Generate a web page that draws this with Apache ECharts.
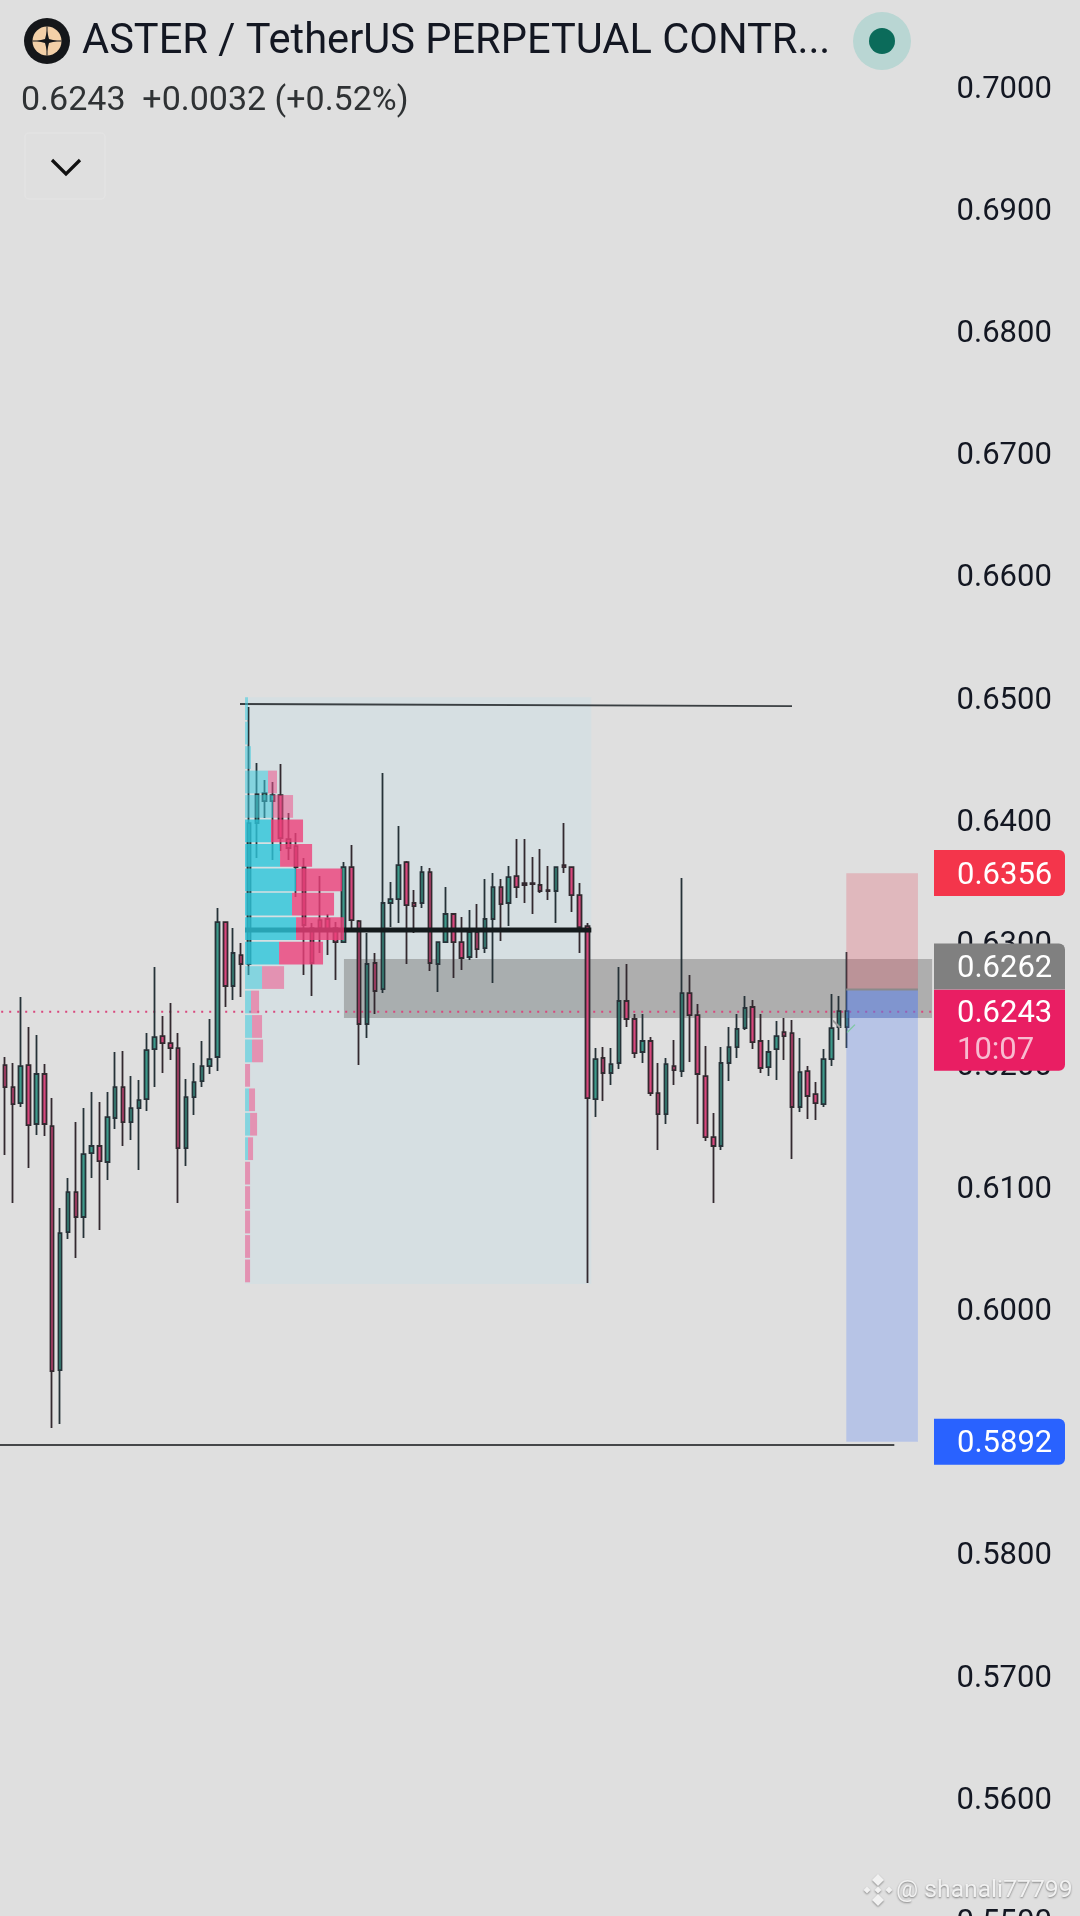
<!DOCTYPE html>
<html><head><meta charset="utf-8">
<style>html,body{margin:0;padding:0;background:#dfdfdf}#c{width:1080px;height:1916px}</style>
<script src="https://cdn.jsdelivr.net/npm/echarts@6/dist/echarts.min.js"></script>
</head><body><div id="c"></div>
<script>
const opens=[.61821,.62001,.61821,.61690,.62001,.61519,.61928,.61502,.59506,.60635,.60962,.60758,.61281,.61339,.61208,.61568,.61821,.61535,.61649,.61723,.62132,.62238,.62181,.62140,.61322,.61739,.61870,.61993,.62067,.63171,.62648,.62901,.62828,.63981,.64161,.64161,.64210,.63850,.63793,.63621,.63122,.63187,.63196,.63122,.63007,.63621,.63179,.62337,.62836,.62623,.63327,.63359,.63662,.63327,.63327,.63580,.62828,.63007,.63237,.63007,.62885,.63089,.62958,.63196,.63457,.63327,.63547,.63490,.63490,.63474,.63433,.63425,.63637,.63621,.63392,.63138,.61723,.62059,.61936,.62018,.62525,.62378,.62108,.62198,.61772,.61600,.61993,.61952,.62590,.62410,.61911,.61412,.61339,.62018,.62148,.62304,.62476,.62198,.61985,.62132,.62271,.62263,.61658,.61952,.61764,.61682,.62050,.62312,.62312];
const closes=[.62018,.61821,.61682,.61993,.61510,.61928,.61519,.59498,.60627,.60962,.60758,.61273,.61339,.61216,.61576,.61821,.61535,.61649,.61715,.62124,.62230,.62181,.62140,.61322,.61739,.61862,.61993,.62050,.63171,.62648,.62918,.62828,.63981,.64218,.64226,.64210,.63858,.63777,.63621,.63147,.62836,.63122,.63114,.63007,.63621,.63187,.62337,.62828,.62607,.63327,.63359,.63637,.63310,.63302,.63580,.62836,.63007,.63237,.63007,.62877,.63089,.62950,.63196,.63457,.63318,.63539,.63457,.63474,.63482,.63425,.63425,.63621,.63621,.63392,.63130,.61731,.62050,.61936,.62009,.62525,.62378,.62099,.62198,.61772,.61600,.62009,.61960,.62590,.62410,.61928,.61412,.61339,.62018,.62148,.62296,.62468,.62189,.61977,.62108,.62238,.62238,.61658,.61944,.61748,.61690,.62050,.62304,.62443,.62443];
const lows=[.61715,.61265,.60872,.61658,.61159,.61429,.61420,.59032,.59064,.60578,.60422,.60586,.61077,.60651,.61060,.61478,.61339,.61388,.61142,.61625,.61821,.61936,.62042,.60872,.61175,.61592,.61821,.61928,.61952,.62476,.62533,.62558,.62738,.63695,.64022,.63678,.63752,.63678,.63376,.62738,.62566,.62918,.62901,.62697,.63007,.63106,.62001,.62222,.62418,.62590,.63130,.63163,.62828,.63081,.63286,.62770,.62598,.62999,.62713,.62778,.62860,.62877,.62918,.62672,.63016,.63138,.63367,.63327,.63237,.63408,.63351,.63163,.63572,.63253,.62918,.60218,.61576,.61707,.61838,.61969,.62312,.62059,.62018,.61748,.61306,.61519,.61838,.61903,.62026,.61519,.61379,.60872,.61306,.61870,.62059,.62288,.62132,.61936,.61911,.61879,.62042,.61232,.61617,.61559,.61551,.61658,.61993,.62206,.62140];
const highs=[.62108,.62067,.62018,.62558,.62312,.62247,.62009,.61731,.60831,.61077,.61535,.61649,.61780,.61699,.61780,.62108,.62116,.61911,.61879,.62263,.62803,.62402,.62508,.62263,.61887,.62018,.62198,.62378,.63286,.63171,.63122,.62999,.64930,.64472,.64333,.64316,.64464,.64063,.63899,.63695,.63163,.63547,.63237,.63171,.63662,.63801,.63187,.63081,.62918,.64390,.63498,.63957,.63670,.63433,.63629,.63613,.63007,.63457,.63245,.63212,.63269,.63318,.63523,.63572,.63523,.63629,.63850,.63850,.63703,.63768,.63629,.63621,.63981,.63621,.63490,.63163,.62140,.62148,.62140,.62803,.62828,.62418,.62418,.62230,.62018,.62059,.62206,.63531,.62738,.62500,.62157,.61609,.62148,.62312,.62418,.62566,.62533,.62418,.62206,.62361,.62386,.62369,.62222,.61993,.61862,.62132,.62582,.62566,.62926];

const axisMin=.55, axisMax=.71, axisStep=.01;
const rangeBox=[[32,76,.6501,.6021]];
const supplyZone=[[44.57,119.3,.62868,.62386]];
const stopBox=[[108.4,117.5,.6357,.6262]];
const targetBox=[[108.4,117.5,.6262,.5892]];
const overlapBox=[[108.4,117.5,.6262,.62386]];

const pocLine=[[32,.63106],[76,.63106]];
const topLine=[[31.36,.64955],[101.5,.64938]];
const bottomLine=[[0,.58892],[114.5,.58892]];
const lastPriceLine=[[0,.62438],[119.3,.62438]];
const entryLine=[[108.4,.6262],[117.5,.6262]];
const toolTickA=[[106.7,.62365],[107.6,.62308]];
const toolTickB=[[108.5,.62267],[109.5,.62332]];

const profileTops=[.6501,.6481,.6461,.6441,.6421,.6401,.6381,.6361,.6341,.6321,.6301,.6281,.6261,.6241,.6221,.6201,.6181,.6161,.6141,.6121,.6101,.6081,.6061,.6041];
const profileBuy=[.38,.38,.76,2.92,3.56,3.30,4.45,6.48,5.97,6.48,4.32,2.16,.76,.89,.89,0,.51,.64,.38,0,0,0,0,0];
const profileSell=[0,0,0,1.14,2.54,4.07,4.07,5.84,5.34,6.10,5.59,2.80,1.02,1.27,1.40,.64,.76,.89,.64,.64,.64,.64,.64,.64];
const profileValueArea=[0,0,0,0,0,1,1,1,1,1,1,0,0,0,0,0,0,0,0,0,0,0,0,0];
const profileStart=32;

const priceTags=[
 {value:.6356,text:'0.6356',color:'#f4354b',up:1.5},
 {value:.6262,text:'0.6262',color:'#808080',up:23},
 {value:.5892,text:'0.5892',color:'#2962ff',up:0}
];
const lastPrice=.6243, lastPriceText='0.6243', countdown='10:07';

const FONT='Roboto';
const BARW=7.87, N=120, GL=-6.8;
const GT=-34.94, GH=1955.8;

function rectSeries(name,data,fill,z){
  return {type:'custom',name,xAxisIndex:1,yAxisIndex:0,z,silent:true,clip:false,
    encode:{x:[0,1],y:[2,3]},data,
    renderItem:(p,api)=>{
      const a=api.coord([api.value(0),api.value(2)]),b=api.coord([api.value(1),api.value(3)]);
      return {type:'rect',shape:{x:a[0],y:a[1],width:b[0]-a[0],height:b[1]-a[1]},style:{fill}};
    }};
}
function lineSeries(name,data,color,width,z,extra){
  return {type:'line',name,xAxisIndex:1,yAxisIndex:0,z,silent:true,symbol:'none',clip:false,data,
    lineStyle:Object.assign({color,width},extra||{})};
}
const profileData=profileTops.map((t,i)=>[t,profileBuy[i],profileSell[i],profileValueArea[i]]);

const chart=echarts.init(document.getElementById('c'),null,{renderer:'canvas',width:1080,height:1916});

const cats=Array.from({length:N},(_,i)=>String(i));
const candles=opens.map((o,i)=>[o,closes[i],lows[i],highs[i]]);

const WM='#f1f1f1';
const d=(pts,fill)=>({type:'polygon',z:50,shape:{points:pts},style:{fill,shadowColor:'rgba(0,0,0,.4)',shadowBlur:2,shadowOffsetY:1}});
const diamond=(cx,cy,r,fill)=>d([[cx,cy-r],[cx+r,cy],[cx,cy+r],[cx-r,cy]],fill);

chart.setOption({
  animation:false,
  backgroundColor:'#dfdfdf',
  textStyle:{fontFamily:FONT},
  grid:{left:GL,top:GT,width:N*BARW,height:GH,containLabel:false,outerBoundsMode:'none'},
  xAxis:[
    {type:'category',data:cats,show:false,boundaryGap:true},
    {type:'value',min:0,max:N,show:false}
  ],
  yAxis:{type:'value',position:'right',min:axisMin,max:axisMax,interval:axisStep,scale:true,
    axisLine:{show:false},axisTick:{show:false},splitLine:{show:false},
    axisLabel:{margin:19,color:'#131722',fontFamily:FONT,fontSize:31,verticalAlign:'top',lineHeight:5,formatter:v=>v.toFixed(4),hideOverlap:false}},
  series:[
    rectSeries('range',rangeBox,'#d6dfe2',1),
    rectSeries('zone',supplyZone,'rgba(110,110,110,.43)',2),
    {type:'candlestick',name:'ASTER',z:3,data:candles,barWidth:4,silent:true,
      itemStyle:{color:'#3d9a8b',color0:'#d9477d',borderColor:'#263238',borderColor0:'#33292f',borderWidth:1.8}},
    lineSeries('last',lastPriceLine,'#d9477d',2,3,{type:[2,6]}),
    lineSeries('poc',pocLine,'#141a1c',5,4),
    lineSeries('top',topLine,'#3a3f42',1.8,4),
    lineSeries('bottom',bottomLine,'#454749',2,4),
    {type:'custom',name:'profile',xAxisIndex:1,yAxisIndex:0,z:5,silent:true,clip:false,encode:{x:1,y:0},data:profileData,
      renderItem:(p,api)=>{
        const top=api.value(0),buy=api.value(1),sell=api.value(2),va=api.value(3);
        const y0=api.coord([profileStart,top])[1],y1=api.coord([profileStart,top-.00186])[1];
        const x0=api.coord([profileStart,top])[0];
        const x1=api.coord([profileStart+buy,top])[0],x2=api.coord([profileStart+buy+sell,top])[0];
        return {type:'group',children:[
          {type:'rect',shape:{x:x0,y:y0,width:x1-x0,height:y1-y0},style:{fill:va?'rgba(45,198,219,.8)':'rgba(65,203,220,.55)'}},
          {type:'rect',shape:{x:x1,y:y0,width:x2-x1,height:y1-y0},style:{fill:va?'rgba(238,64,122,.8)':'rgba(238,82,138,.55)'}}
        ]};
      }},
    rectSeries('stop',stopBox,'rgba(228,68,88,.25)',6),
    rectSeries('target',targetBox,'rgba(93,137,247,.3)',6),
    rectSeries('overlap',overlapBox,'rgba(68,112,240,.25)',6),
    lineSeries('entry',entryLine,'#8a8a8a',2,7),
    lineSeries('tickA',toolTickA,'#9a9a9a',2,7),
    lineSeries('tickB',toolTickB,'#7dc9a0',1.3,7),
    {type:'custom',name:'tags',xAxisIndex:1,yAxisIndex:0,z:20,silent:true,clip:false,encode:{y:0},
      data:priceTags.map(t=>[t.value]),
      renderItem:(p,api)=>{
        const t=priceTags[p.dataIndex],y=api.coord([0,api.value(0)])[1]-t.up;
        return {type:'group',children:[
          {type:'rect',shape:{x:934,y:y-23,width:131,height:46,r:[0,6,t.up>20?0:6,0]},style:{fill:t.color}},
          {type:'text',style:{x:957,y:y+3,text:t.text,fill:'#fff',font:'31px '+FONT,verticalAlign:'middle'}}
        ]};
      }},
    {type:'custom',name:'lastTag',xAxisIndex:1,yAxisIndex:0,z:21,silent:true,clip:false,encode:{y:0},data:[[lastPrice]],
      renderItem:(p,api)=>{
        const y=api.coord([0,api.value(0)])[1];
        return {type:'group',children:[
          {type:'rect',shape:{x:934,y:y-23,width:131,height:81,r:[0,0,6,0]},style:{fill:'#e91e63'}},
          {type:'text',style:{x:957,y:y+2,text:lastPriceText,fill:'#fff',font:'31px '+FONT,verticalAlign:'middle'}},
          {type:'text',style:{x:957,y:y+39,text:countdown,fill:'#f8bbd0',font:'31px '+FONT,verticalAlign:'middle'}}
        ]};
      }}
  ],
  graphic:[
    {type:'circle',z:50,shape:{cx:47,cy:41,r:23},style:{fill:'#15171a'}},
    {type:'circle',z:51,shape:{cx:47,cy:41,r:14.5},style:{fill:'#f3d0a8'}},
    {type:'line',z:52,shape:{x1:32.5,y1:41,x2:61.5,y2:41},style:{stroke:'#15171a',lineWidth:1}},
    {type:'line',z:52,shape:{x1:47,y1:26.5,x2:47,y2:55.5},style:{stroke:'#15171a',lineWidth:1}},
    {type:'polygon',z:53,shape:{points:[[47,31],[49,39],[57,41],[49,43],[47,51],[45,43],[37,41],[45,39]]},style:{fill:'#15171a'}},
    {type:'text',z:50,style:{x:82,y:42.5,text:'ASTER / TetherUS PERPETUAL CONTR...',fill:'#131722',font:'41.6px '+FONT,verticalAlign:'middle'}},
    {type:'text',z:50,style:{x:21,y:101.5,text:'0.6243  +0.0032 (+0.52%)',fill:'#2f3234',font:'34px '+FONT,verticalAlign:'middle'}},
    {type:'circle',z:50,shape:{cx:882,cy:41,r:29},style:{fill:'#b9d6d3'}},
    {type:'circle',z:51,shape:{cx:882,cy:41,r:13},style:{fill:'#0b6b5a'}},
    {type:'rect',z:50,shape:{x:25,y:133,width:80,height:66,r:4},style:{fill:'#dfdfdf',stroke:'#e3e3e3',lineWidth:1.5}},
    {type:'polyline',z:51,shape:{points:[[52,160],[66,174],[80,160]]},style:{stroke:'#111',lineWidth:3.2,fill:null}},
    diamond(878,1880,6,WM),diamond(867,1890,3.5,WM),diamond(889,1890,3.5,WM),diamond(878,1890,3.5,WM),diamond(878,1900,6,WM),
    {type:'text',z:50,style:{x:896,y:1891,text:'@ shanali77799',fill:WM,font:'24.7px '+FONT,verticalAlign:'middle',textShadowColor:'rgba(0,0,0,.45)',textShadowBlur:2,textShadowOffsetY:1}}
  ]
});
</script></body></html>
